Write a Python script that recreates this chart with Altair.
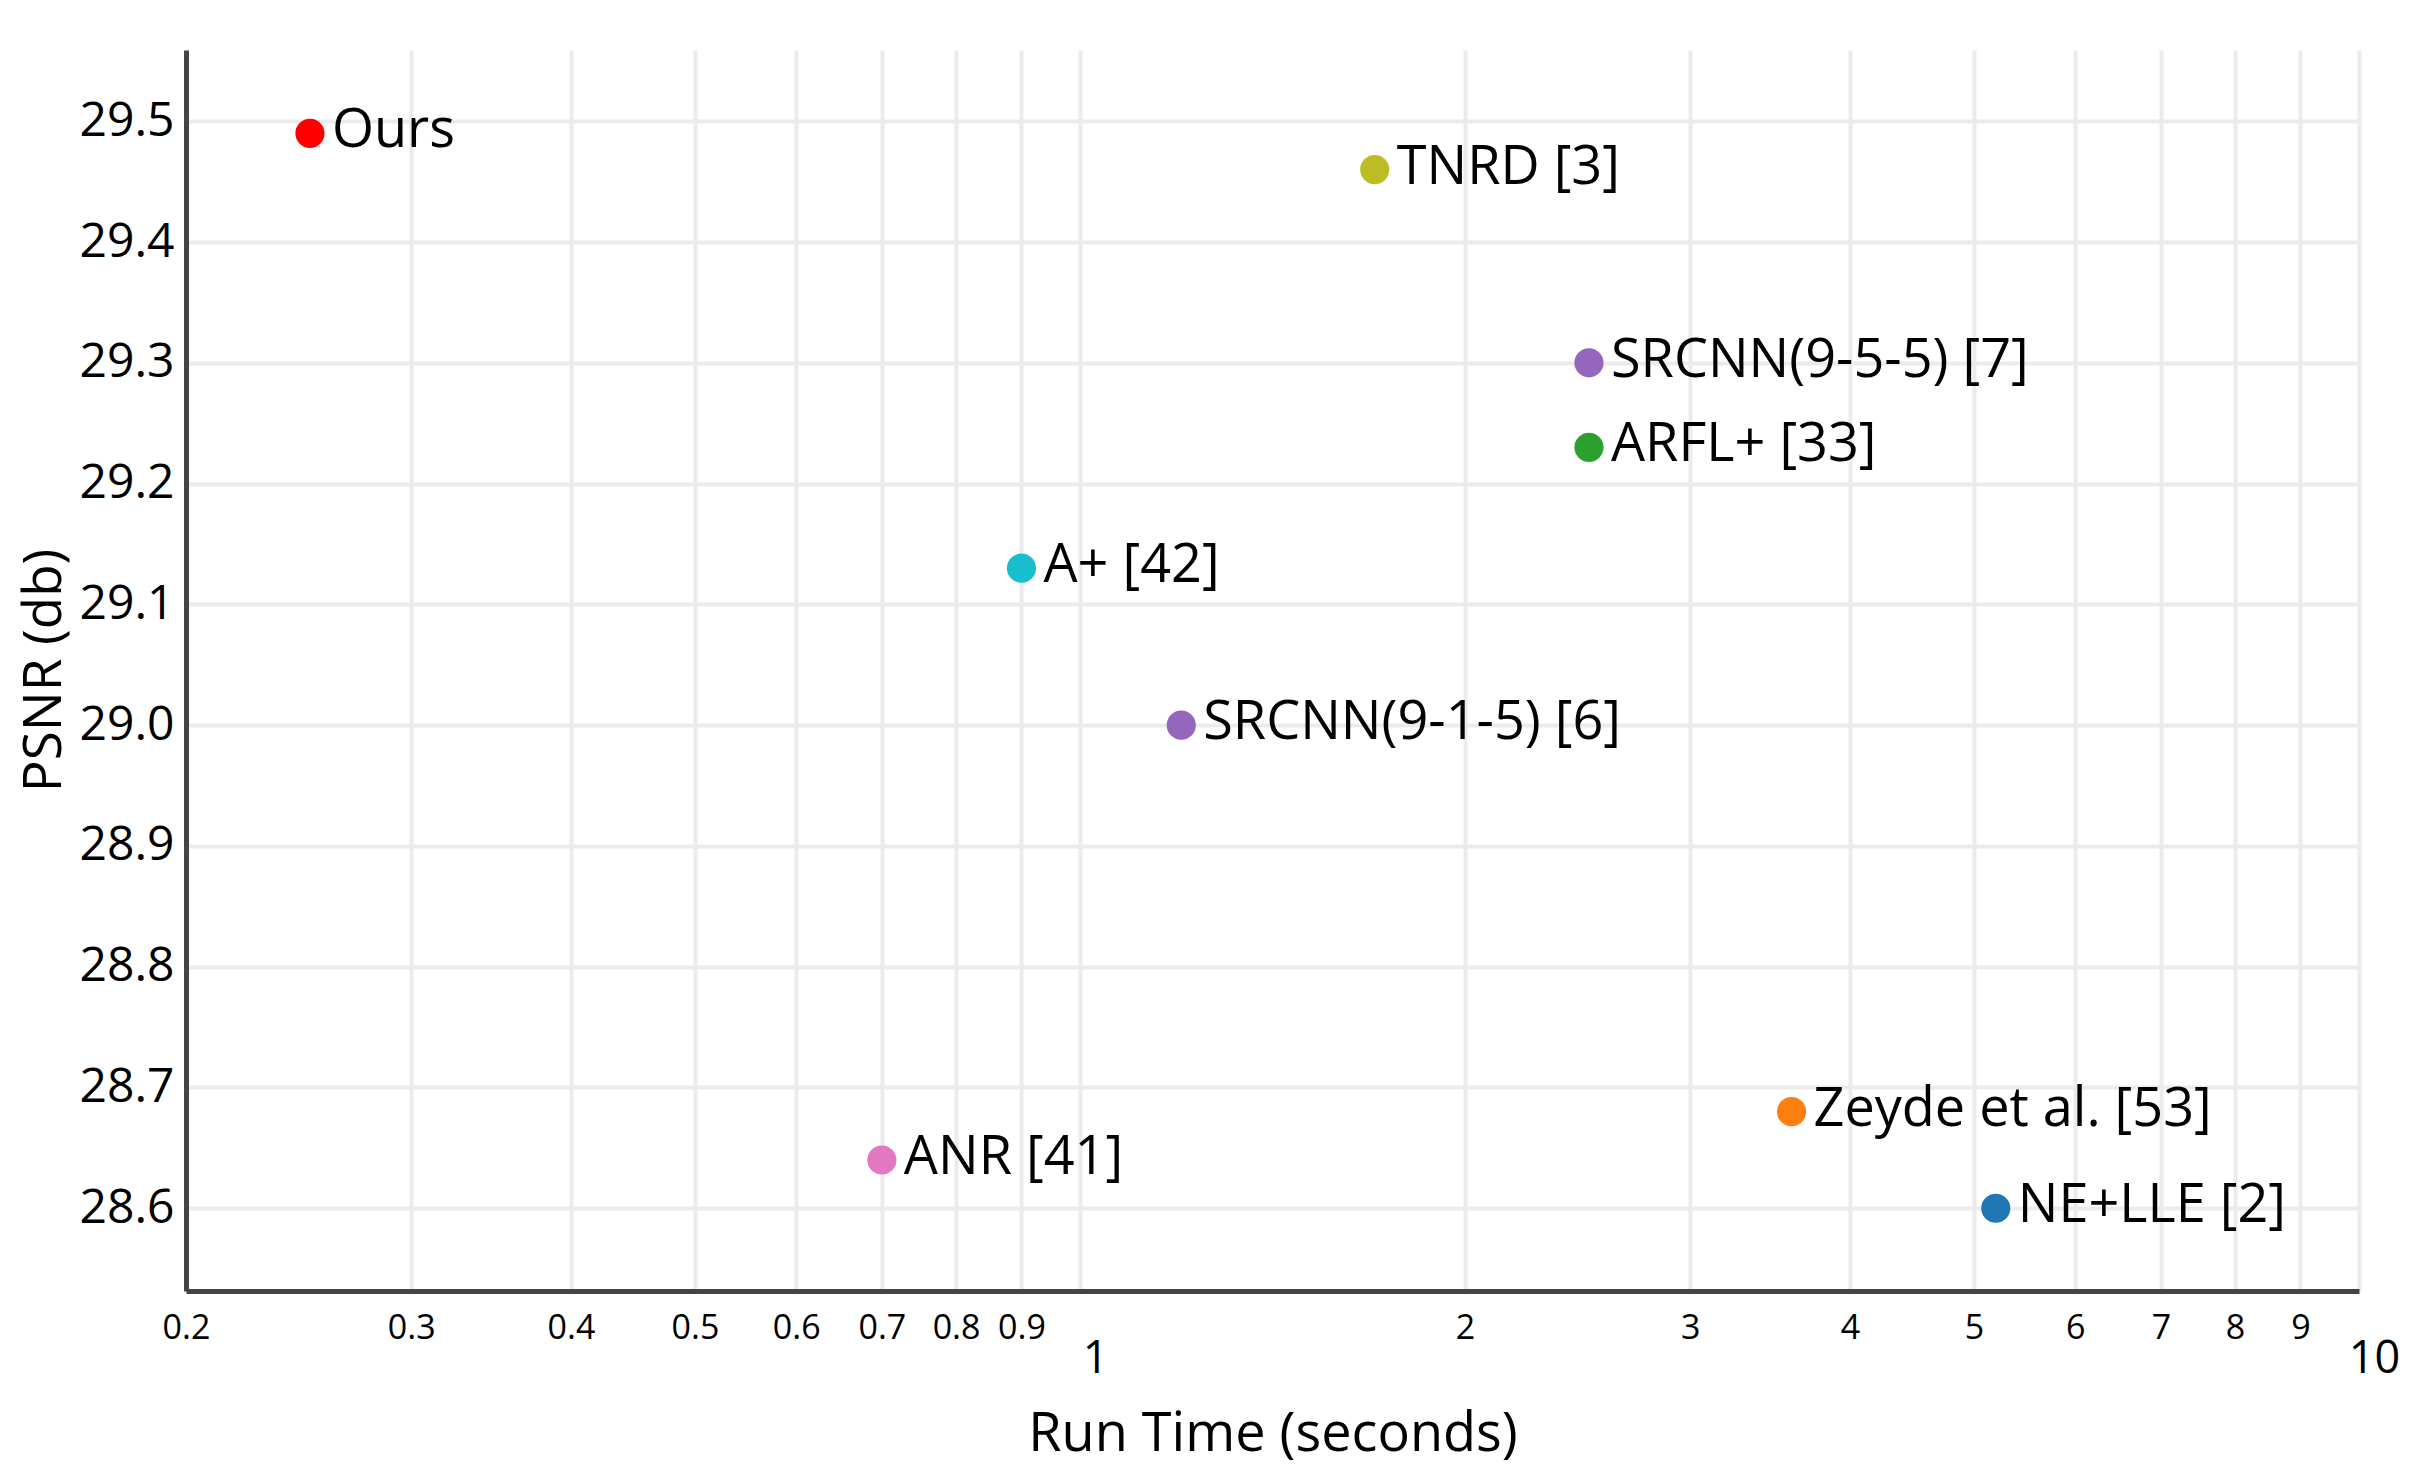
import altair as alt
import pandas as pd

# values
methods = ["Ours", "TNRD [3]", "SRCNN(9-5-5) [7]", "ARFL+ [33]", "A+ [42]",
           "SRCNN(9-1-5) [6]", "ANR [41]", "Zeyde et al. [53]", "NE+LLE [2]"]
run_time = [0.25, 1.70, 2.50, 2.50, 0.90, 1.20, 0.70, 3.60, 5.20]
psnr = [29.49, 29.46, 29.30, 29.23, 29.13, 29.00, 28.64, 28.68, 28.60]
colors = ["#ff0000", "#bcbd22", "#9467bd", "#2ca02c", "#17becf",
          "#9467bd", "#e377c2", "#ff7f0e", "#1f77b4"]

x_ticks = [0.2, 0.3, 0.4, 0.5, 0.6, 0.7, 0.8, 0.9, 1, 2, 3, 4, 5, 6, 7, 8, 9, 10]
y_ticks = [28.6, 28.7, 28.8, 28.9, 29.0, 29.1, 29.2, 29.3, 29.4, 29.5]

df = pd.DataFrame({"method": methods, "run_time": run_time, "psnr": psnr, "color": colors})

FONT = "Open Sans"
big = "datum.value == 1 || datum.value == 10"

x_axis = alt.Axis(
    title="Run Time (seconds)", values=x_ticks, format="~g",
    labelFontSize={"expr": f"{big} ? 45 : 34"},
    labelPadding={"expr": f"{big} ? 45 : 20"},
    labelOffset={"expr": f"{big} ? 15 : 0"},
    labelOverlap=False, labelFlush=False, ticks=False,
    titleFontSize=54, titleFontWeight="normal", titleY=159, titleBaseline="alphabetic",
)
y_axis = alt.Axis(
    title="PSNR (db)", values=y_ticks, format=".1f", labelFontSize=48,
    labelPadding=12, ticks=False, labelOverlap=False,
    titleFontSize=53, titleFontWeight="normal", titleX=-142, titleY=620,
    titleBaseline="middle",
)

x = alt.X("run_time:Q", scale=alt.Scale(type="log", domain=[0.2, 10], nice=False), axis=x_axis)
y = alt.Y("psnr:Q", scale=alt.Scale(domain=[28.5315, 29.559], nice=False, zero=False), axis=y_axis)

base = alt.Chart(df).encode(x=x, y=y)
points = base.mark_circle(size=850, opacity=1).encode(color=alt.Color("color:N", scale=None))
labels = base.mark_text(align="left", baseline="middle", dx=22, dy=-2, fontSize=54,
                        font=FONT, color="black").encode(text="method:N")

chart = (points + labels).properties(
    width=2173, height=1241,
    autosize=alt.AutoSizeParams(type="none"),
    padding={"left": 178, "top": 42, "right": 49, "bottom": 183},
    background="white",
).configure_view(stroke=None).configure_axis(
    labelFont=FONT, titleFont=FONT, labelColor="black", titleColor="black",
    gridColor="#ebebeb", gridWidth=4, domainColor="#444444", domainWidth=5,
)

chart.save("out.html", embed_options={"renderer": "svg", "actions": False})
